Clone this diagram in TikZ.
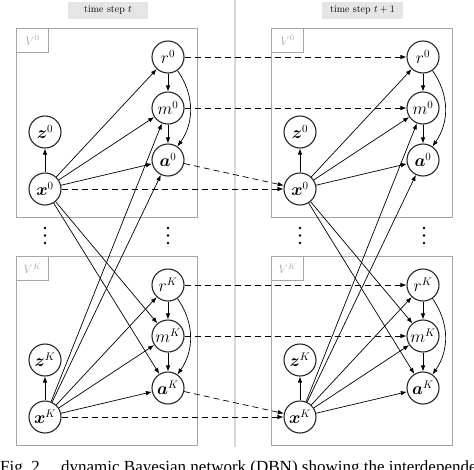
\documentclass[tikz,border=0pt]{standalone}
\usepackage{amsmath}
\usepackage{fontspec}
\newfontfamily\capfont{Liberation Serif}
\usetikzlibrary{arrows.meta}
\begin{document}
\begin{tikzpicture}[x=1pt,y=-1pt,
  var/.style={circle,draw=black!85,line width=1.1pt,minimum size=32pt,inner sep=0pt,font=\fontsize{16}{18}\selectfont},
  arr/.style={-{Latex[length=6pt,width=4.5pt]},line width=0.7pt},
  tarr/.style={arr,dash pattern=on 6pt off 4pt},
  frame/.style={draw=black!35,line width=0.9pt},
  vlab/.style={draw=black!35,line width=0.9pt,text=black!35,minimum width=32pt,minimum height=24pt,inner sep=0pt,anchor=north west,font=\fontsize{12}{14}\selectfont},
  hdr/.style={fill=black!10,minimum height=17pt,inner sep=0pt,font=\fontsize{10}{12}\selectfont},
  dotmark/.style={circle,fill=black,inner sep=0pt,minimum size=2.6pt}]
\useasboundingbox (0,0) rectangle (474,469);
\draw[black!15,line width=2pt] (235,0) -- (235,447);
\node[hdr,minimum width=80pt] (h1) at (108,10.5) {time step $t$};
\node[hdr,minimum width=81pt] (h2) at (362.5,10.5) {time step $t+1$};
\foreach \s/\dx in {t/0,n/255}{
  \foreach \b/\dy in {0/0,K/228}{
    \draw[frame] (16+\dx,28+\dy) rectangle (197+\dx,217+\dy);
    \node[vlab] (v\b\s) at (16+\dx,28+\dy) {$V^{\b}$};
    \node[var] (r\b\s) at (168+\dx,57+\dy) {$r^{\b}$};
    \node[var] (m\b\s) at (168+\dx,108+\dy) {$m^{\b}$};
    \node[var] (a\b\s) at (168+\dx,160+\dy) {$\boldsymbol{a}^{\b}$};
    \node[var] (z\b\s) at (45+\dx,132+\dy) {$\boldsymbol{z}^{\b}$};
    \node[var] (x\b\s) at (45+\dx,189+\dy) {$\boldsymbol{x}^{\b}$};
    \draw[arr] (x\b\s) -- (z\b\s);
    \draw[arr] (x\b\s) -- (r\b\s);
    \draw[arr] (x\b\s) -- (m\b\s);
    \draw[arr] (x\b\s) -- (a\b\s);
    \draw[arr] (r\b\s) -- (m\b\s);
    \draw[arr] (m\b\s) -- (a\b\s);
    \draw[arr] (r\b\s) to[bend left=35] (a\b\s);
  }
  \draw[arr] (x0\s) -- (mK\s);
  \draw[arr] (x0\s) -- (aK\s);
  \draw[arr] (xK\s) -- (m0\s);
  \draw[arr] (xK\s) -- (a0\s);
}
\foreach \b in {0,K}{
  \draw[tarr] (r\b t) -- (r\b n);
  \draw[tarr] (m\b t) -- (m\b n);
  \draw[tarr] (a\b t) -- (x\b n);
  \draw[tarr] (x\b t) -- (x\b n);
}
\foreach \xx in {45,168,300,424}{
  \foreach \yy in {228,235.5,243}{
    \node[dotmark] at (\xx,\yy) {};
  }
}
\node[anchor=north west,inner sep=0pt,font=\capfont\fontsize{17}{20}\selectfont] (cap) at (0,460) {Fig.~2.\quad dynamic Bayesian network (DBN) showing the interdependencies};
\end{tikzpicture}
\end{document}
